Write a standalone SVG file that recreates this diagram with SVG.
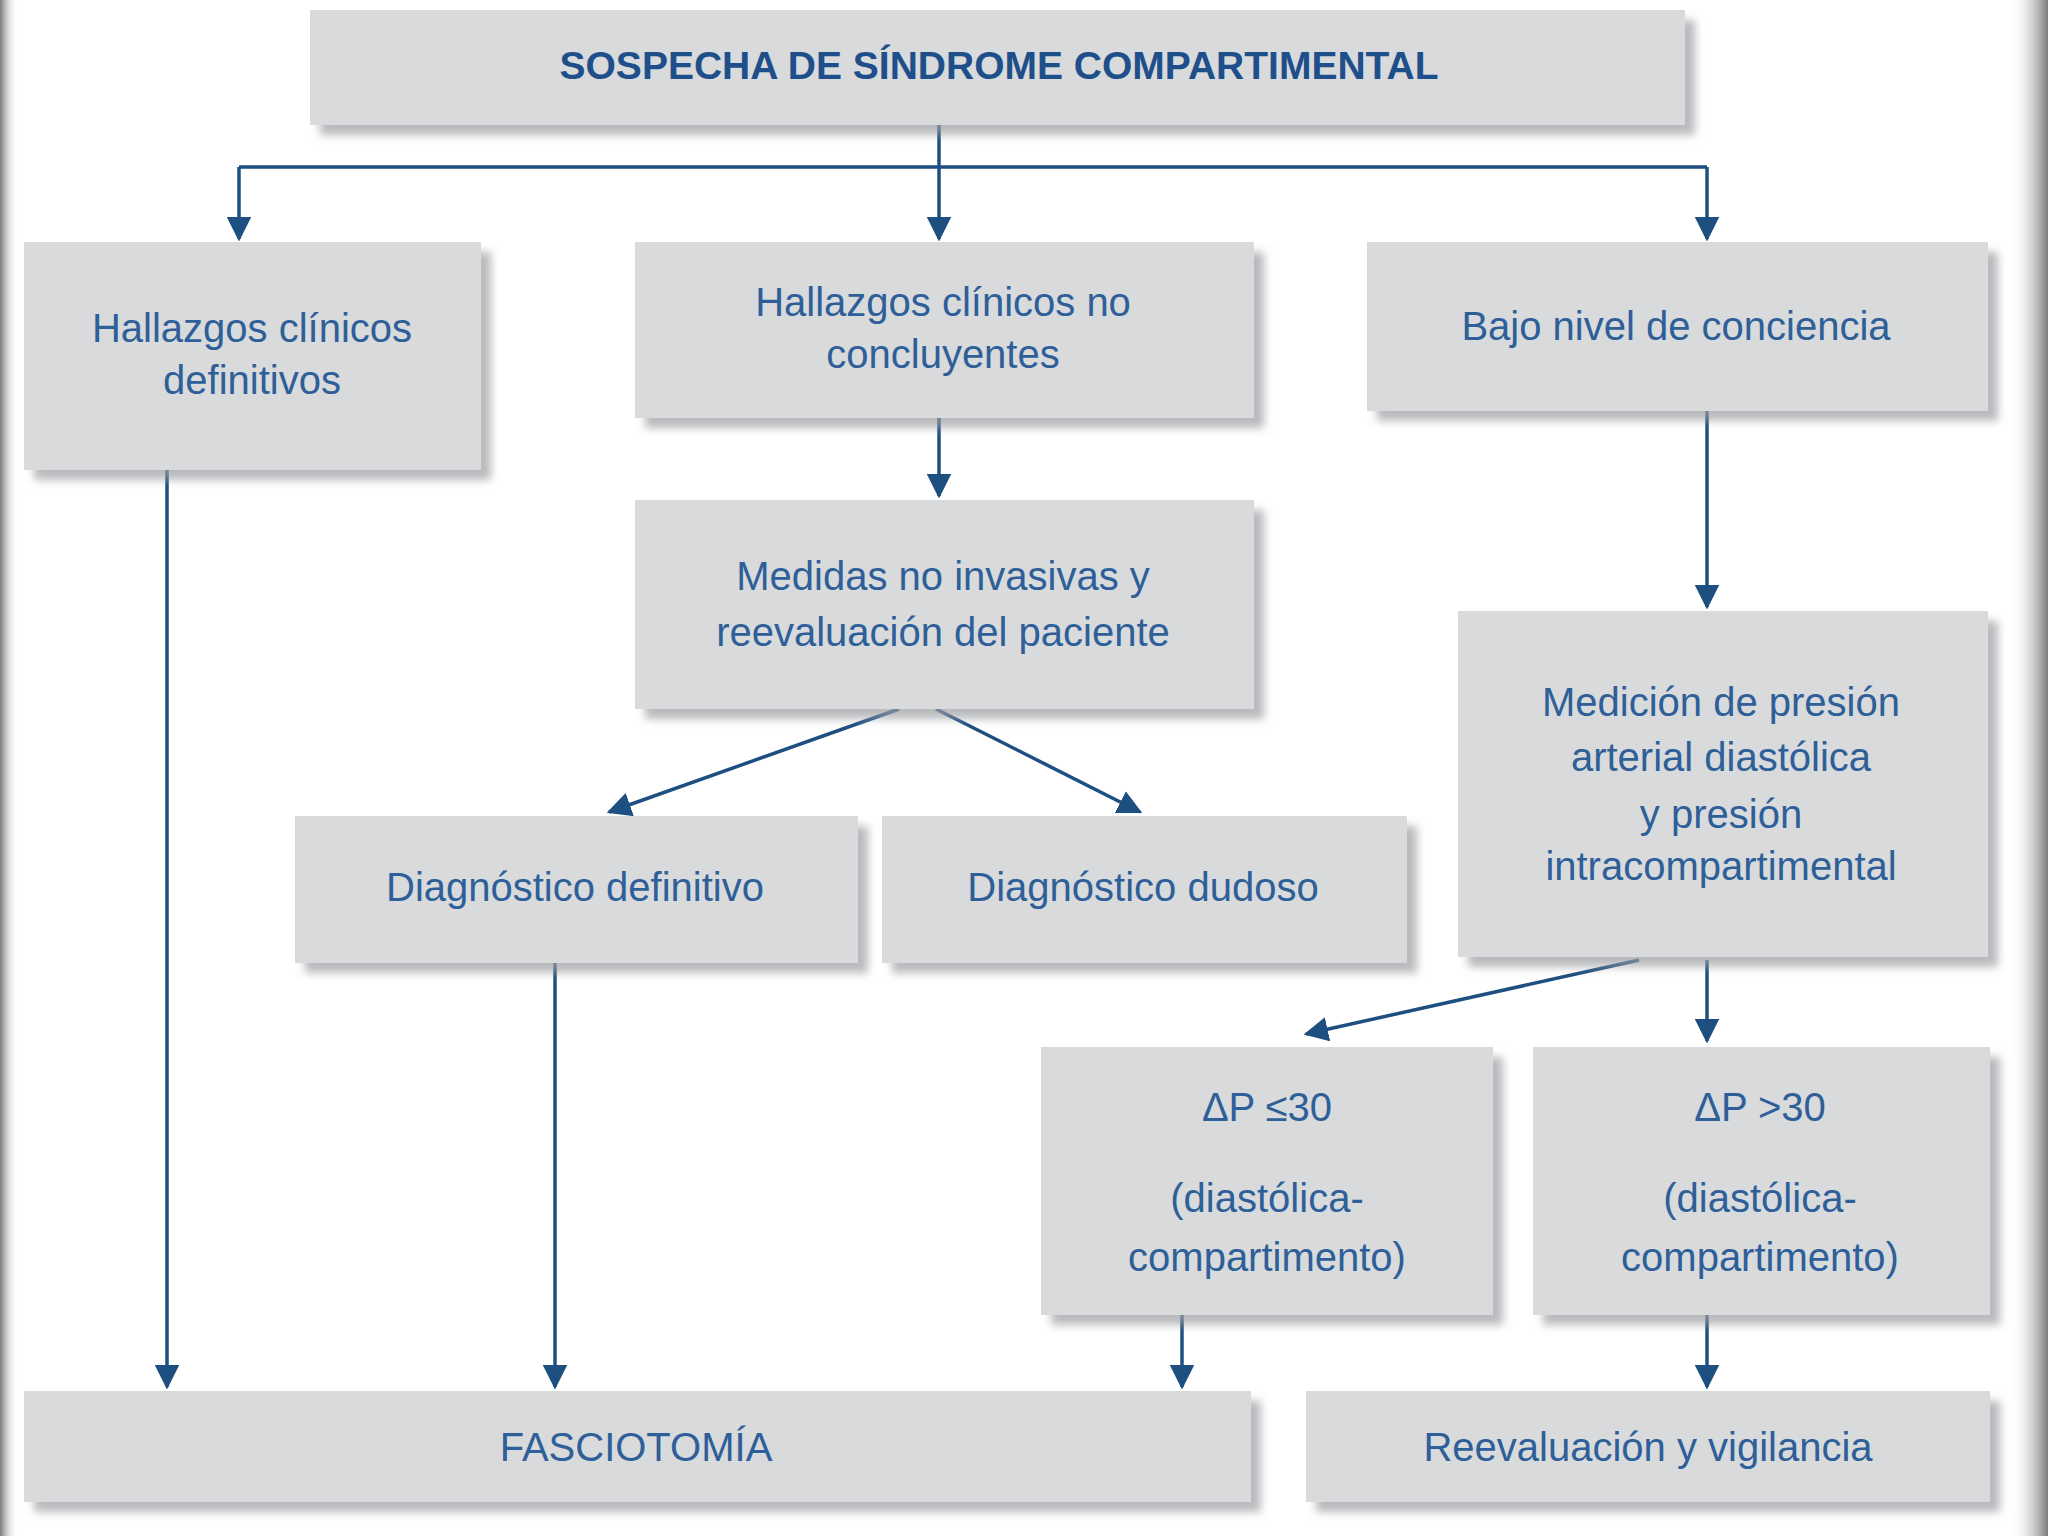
<svg xmlns="http://www.w3.org/2000/svg" width="2048" height="1536" viewBox="0 0 2048 1536">
<style>
.b{fill:#d8dadc;filter:url(#sh)}
.t{font-family:"Liberation Sans",Arial,sans-serif;font-size:40px;fill:#2e5f98;text-anchor:middle}
.h{font-weight:bold;font-size:39px;fill:#1f4f8a}
.c{stroke:#1d4f80;stroke-width:3.5;fill:none}
.a{marker-end:url(#ar)}
</style>
<defs>
<filter id="sh" x="-10%" y="-10%" width="130%" height="130%"><feDropShadow dx="10" dy="10" stdDeviation="4" flood-color="#9a9ca0" flood-opacity="0.7"/></filter>
<marker id="ar" viewBox="0 0 10 10" refX="9" refY="5" markerWidth="7" markerHeight="7" orient="auto"><path d="M0,0L10,5L0,10z" fill="#1d4f80"/></marker>
<linearGradient id="gl" x1="0" x2="1"><stop offset="0" stop-color="#7a7a7a"/><stop offset="1" stop-color="#fff" stop-opacity="0"/></linearGradient>
<linearGradient id="gr" x1="1" x2="0"><stop offset="0" stop-color="#7a7a7a"/><stop offset="1" stop-color="#fff" stop-opacity="0"/></linearGradient>
</defs>
<rect width="2048" height="1536" fill="#fff"/>
<rect x="0" y="0" width="18" height="1536" fill="url(#gl)"/>
<rect x="2010" y="0" width="38" height="1536" fill="url(#gr)"/>
<g id="connectors">
<path class="c" d="M939,125V167M239,167H1707"/>
<path class="c a" d="M239,167V239"/><path class="c a" d="M939,167V239"/><path class="c a" d="M1707,167V239"/>
<path class="c a" d="M939,418V496"/>
<path class="c a" d="M899,709L609,812"/>
<path class="c a" d="M936,709L1140,812"/>
<path class="c a" d="M167,470V1387"/>
<path class="c a" d="M555,963V1387"/>
<path class="c a" d="M1707,411V607"/>
<path class="c a" d="M1639,960L1306,1034"/>
<path class="c a" d="M1707,960V1041"/>
<path class="c a" d="M1182,1315V1387"/>
<path class="c a" d="M1707,1315V1387"/>
</g>
<g id="title"><rect class="b" x="310" y="10" width="1375" height="115"/><text class="t h" x="999" y="79">SOSPECHA DE SÍNDROME COMPARTIMENTAL</text></g>
<g id="a"><rect class="b" x="24" y="242" width="457" height="228"/><text class="t" x="252" y="342">Hallazgos clínicos</text><text class="t" x="252" y="394">definitivos</text></g>
<g id="b"><rect class="b" x="635" y="242" width="619" height="176"/><text class="t" x="943" y="316">Hallazgos clínicos no</text><text class="t" x="943" y="368">concluyentes</text></g>
<g id="c"><rect class="b" x="1367" y="242" width="621" height="169"/><text class="t" x="1676" y="340">Bajo nivel de conciencia</text></g>
<g id="d"><rect class="b" x="635" y="500" width="619" height="209"/><text class="t" x="943" y="590">Medidas no invasivas y</text><text class="t" x="943" y="646">reevaluación del paciente</text></g>
<g id="e"><rect class="b" x="295" y="816" width="563" height="147"/><text class="t" x="575" y="901">Diagnóstico definitivo</text></g>
<g id="f"><rect class="b" x="882" y="816" width="525" height="147"/><text class="t" x="1143" y="901">Diagnóstico dudoso</text></g>
<g id="g"><rect class="b" x="1458" y="611" width="530" height="346"/><text class="t" x="1721" y="716">Medición de presión</text><text class="t" x="1721" y="771">arterial diastólica</text><text class="t" x="1721" y="828">y presión</text><text class="t" x="1721" y="880">intracompartimental</text></g>
<g id="h"><rect class="b" x="1041" y="1047" width="452" height="268"/><text class="t" x="1267" y="1121">ΔP ≤30</text><text class="t" x="1267" y="1212">(diastólica-</text><text class="t" x="1267" y="1271">compartimento)</text></g>
<g id="i"><rect class="b" x="1533" y="1047" width="457" height="268"/><text class="t" x="1760" y="1121">ΔP &gt;30</text><text class="t" x="1760" y="1212">(diastólica-</text><text class="t" x="1760" y="1271">compartimento)</text></g>
<g id="j"><rect class="b" x="24" y="1391" width="1227" height="111"/><text class="t" x="636" y="1461">FASCIOTOMÍA</text></g>
<g id="k"><rect class="b" x="1306" y="1391" width="684" height="111"/><text class="t" x="1648" y="1461">Reevaluación y vigilancia</text></g>
</svg>
